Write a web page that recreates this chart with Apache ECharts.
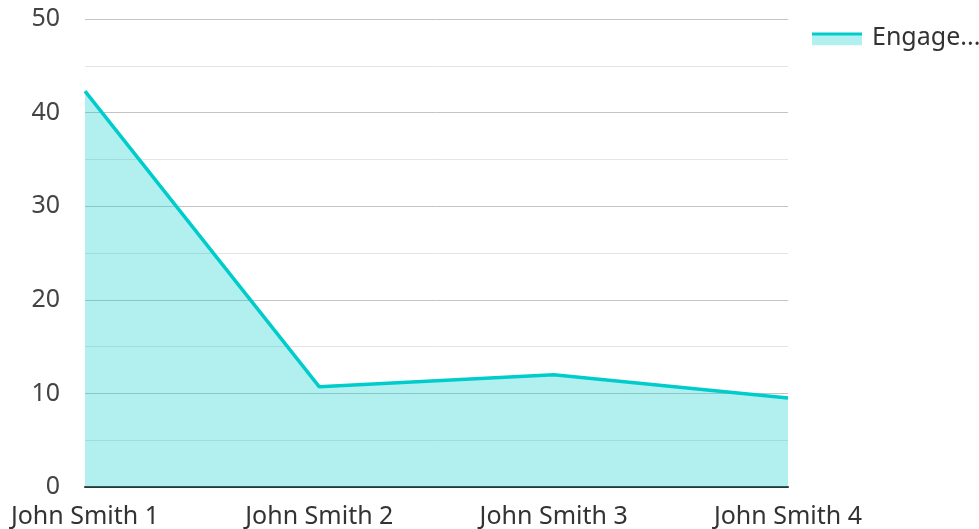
<!DOCTYPE html>
<html>
<head>
<meta charset="utf-8">
<script src="https://cdn.jsdelivr.net/npm/echarts@6/dist/echarts.min.js"></script>
<style>
  html, body { margin: 0; padding: 0; background: #fff; }
  #main { width: 979px; height: 529px; }
</style>
</head>
<body>
<div id="main"></div>
<script>
const categories = ['John Smith 1', 'John Smith 2', 'John Smith 3', 'John Smith 4']
const seriesName = 'Engagement'
const engagement = [42.3, 10.7, 12.0, 9.5]
const yTicks = [0, 10, 20, 30, 40, 50]

const lineColor = '#00cccc'
const areaColor = 'rgba(0, 204, 204, 0.3)'

// legend icon: line on top, area underneath
const legendSvg = '<svg xmlns="http://www.w3.org/2000/svg" width="50" height="16">' +
  '<rect x="0" y="5" width="50" height="11" fill="#b2efef"/>' +
  '<rect x="0" y="3" width="50" height="3" fill="#00cccc"/></svg>'

var myChart = echarts.init(document.getElementById('main'))

var option = {
  animation: false,
  textStyle: { fontFamily: 'Noto Sans' },
  legend: {
    left: 807,
    top: 20,
    itemWidth: 50,
    itemHeight: 16,
    itemGap: 10,
    icon: 'image://data:image/svg+xml;charset=utf-8,' + encodeURIComponent(legendSvg),
    // long names are cut off like in the original
    formatter: function (name) {
      return name.length > 6 ? name.slice(0, 6) + '...' : name
    },
    textStyle: {
      fontSize: 25,
      color: '#333',
      padding: [0, 0, 0, 5]
    },
    data: [seriesName]
  },
  grid: {
    left: 85,
    right: 191,
    top: 19,
    bottom: 42
  },
  xAxis: {
    type: 'category',
    boundaryGap: false,
    data: categories,
    axisTick: { show: false },
    axisLine: { lineStyle: { color: '#333', width: 2 } },
    axisLabel: { color: '#333', fontSize: 25, margin: 17 },
    splitLine: { show: false }
  },
  yAxis: {
    type: 'value',
    min: yTicks[0],
    max: yTicks[yTicks.length - 1],
    interval: 10,
    axisLine: { show: false },
    axisTick: { show: false },
    axisLabel: { color: '#444', fontSize: 25, margin: 25 },
    splitLine: { lineStyle: { color: '#c4c4c4', width: 1 } },
    minorTick: { show: false, splitNumber: 2 },
    minorSplitLine: { show: true, lineStyle: { color: '#e4e4e4', width: 1 } }
  },
  series: [{
    name: seriesName,
    type: 'line',
    data: engagement,
    symbol: 'none',
    lineStyle: { color: lineColor, width: 3.5 },
    itemStyle: { color: lineColor },
    areaStyle: { color: areaColor, opacity: 1, origin: 'start' },
    z: 1
  }]
}

myChart.setOption(option)
</script>
</body>
</html>
